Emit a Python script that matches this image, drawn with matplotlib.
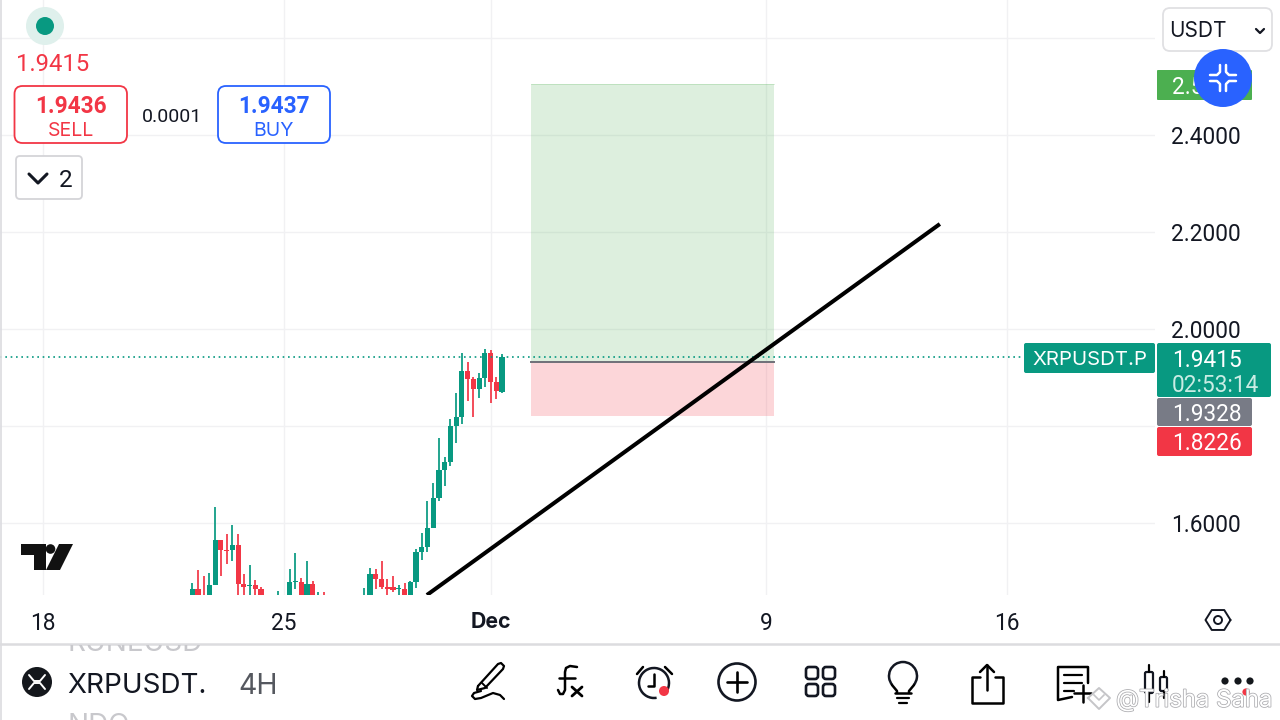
import numpy as np
import matplotlib
matplotlib.use("Agg")
import matplotlib.pyplot as plt
from matplotlib.patches import FancyBboxPatch, Circle, Rectangle, Polygon, Arc
from matplotlib import patheffects as pe

plt.rcParams['font.family'] = ['Inter', 'DejaVu Sans']

# ---------- data ----------
bar_index = [26,27,28,29,30,31,32,33,34,35,36,37,38,41,43,44,45,46,47,48,49,
             56,57,58,59,60,61,62,63,64,65,66,67,68,69,70,71,72,73,74,75,76,77,78,79,80]
opens  = [1.45,1.4646,1.451,1.45,1.4714,1.5649,1.5443,1.5436,1.5539,1.4742,1.4694,1.4714,1.4646,1.44,1.45,1.4776,1.4776,1.45,1.4742,1.44,1.451,
          1.44,1.45,1.4948,1.4838,1.4687,1.4680,1.4632,1.4639,1.45,1.4790,1.5409,1.5512,1.5890,1.6522,1.7093,1.7251,1.8000,1.8178,1.9127,1.8976,1.8770,1.8983,1.9512,1.8907,1.8708]
highs  = [1.4756,1.5024,1.4907,1.4969,1.6336,1.5649,1.5766,1.5951,1.5766,1.4948,1.5127,1.4831,1.4687,1.4591,1.5058,1.5374,1.4859,1.5223,1.4797,1.4569,1.4569,
          1.4659,1.5065,1.5051,1.5209,1.4838,1.4907,1.4721,1.4769,1.4811,1.5457,1.5787,1.6447,1.6831,1.7759,1.7354,1.8151,1.8673,1.9512,1.9319,1.9003,1.9099,1.9581,1.9567,1.9017,1.9484]
lows   = [1.45,1.45,1.45,1.45,1.4714,1.4914,1.5154,1.5223,1.45,1.45,1.45,1.45,1.45,1.44,1.45,1.4646,1.45,1.45,1.45,1.44,1.44,
          1.44,1.45,1.4646,1.4646,1.45,1.4584,1.45,1.45,1.45,1.4653,1.5237,1.5402,1.5890,1.6447,1.6763,1.7175,1.7642,1.8041,1.8508,1.8192,1.8570,1.8811,1.8467,1.8563,1.8687]
closes = [1.4646,1.45,1.449,1.4714,1.5649,1.5443,1.5422,1.5539,1.4742,1.4673,1.4721,1.4632,1.45,1.445,1.4783,1.4797,1.45,1.4742,1.45,1.445,1.449,
          1.445,1.4948,1.4838,1.4673,1.4632,1.4618,1.4653,1.45,1.4790,1.5409,1.5512,1.5890,1.6522,1.7093,1.7251,1.8000,1.8178,1.9127,1.8962,1.8756,1.8983,1.9512,1.8907,1.8728,1.9415]
bars_per_day = 6

y_ticks = [1.6, 1.8, 2.0, 2.2, 2.4, 2.6]
y_labels = ['1.6000', '', '2.0000', '2.2000', '2.4000', '']
x_ticks = [0, 7, 13, 21, 28]
x_labels = ['18', '25', 'Dec', '9', '16']

last_price = 1.9415
entry_price = 1.9328
target_price = 2.505
stop_price = 1.8206
position_days = [14.17, 21.23]
trend_days = [11.15, 26.05]
trend_prices = [1.4515, 2.2165]

GREEN, RED, BLUE, GRAY, INK = '#089981', '#f23645', '#2962ff', '#787b86', '#131722'
NUM = ['Roboto', 'DejaVu Sans']
W, H = 1280, 720
fig = plt.figure(figsize=(12.8, 7.2), dpi=100, facecolor='white')

# ---------- chart axes, calibrated to the price and date scales ----------
AX_R, AX_B = 1155, 595
ax = fig.add_axes([0, 1 - AX_B / H, AX_R / W, AX_B / H])
px_day = 241 / 7
ax.set_xlim(-43 / px_day, (AX_R - 43) / px_day)
ax.set_ylim(2 - (AX_B - 329) / 485, 2 + 329 / 485)
for s in ax.spines.values():
    s.set_visible(False)
ax.yaxis.tick_right()
ax.set_yticks(y_ticks, y_labels)
ax.set_xticks(x_ticks, x_labels)
ax.tick_params(axis='y', length=0, pad=11.5)
ax.tick_params(axis='x', length=0, pad=12)
for lab in ax.get_yticklabels() + ax.get_xticklabels():
    lab.set_fontfamily(NUM); lab.set_fontsize(16.3); lab.set_color(INK)
dec = ax.get_xticklabels()[2]
dec.set_fontfamily(['Inter', 'DejaVu Sans']); dec.set_fontweight('bold'); dec.set_fontsize(15.3)
ax.grid(True, color='#f1f1f3', lw=1.0)
ax.set_axisbelow(True)

# position tool
ax.fill_between(position_days, entry_price, target_price, color='#4caf50', alpha=0.19, lw=0, zorder=1)
ax.fill_between(position_days, stop_price, entry_price, color=RED, alpha=0.20, lw=0, zorder=1)
ax.plot(position_days, [entry_price] * 2, color='#6f7078', lw=1.4, zorder=2)
ax.plot(position_days, [target_price] * 2, color='#4caf50', lw=0.5, alpha=0.3, zorder=2)

# candles
x = np.array(bar_index) / bars_per_day
o, h, l, c = map(np.array, (opens, highs, lows, closes))
cols = [GREEN if cc >= oo else RED for oo, cc in zip(o, c)]
ax.vlines(x, l, h, colors=cols, lw=1.25, zorder=3)
ax.bar(x, np.abs(c - o), bottom=np.minimum(o, c), width=0.15, color=cols, lw=0, zorder=4)

# last price line and trend line
ax.plot([0 / px_day - 43 / px_day, (1025 - 43) / px_day], [last_price] * 2, color=GREEN, lw=1.2,
        ls=(0, (1, 2.2)), zorder=5)
ax.plot(trend_days, trend_prices, color='black', lw=2.9, zorder=6, solid_capstyle='butt')

# ---------- interface layer in pixel coordinates ----------
ui = fig.add_axes([0, 0, 1, 1], facecolor='none')
ui.set_xlim(0, W); ui.set_ylim(H, 0); ui.axis('off')


def box(x0, y0, x1, y1, fc='white', ec='none', lw=1.3, r=3, z=10):
    ui.add_patch(FancyBboxPatch((x0 + r, y0 + r), x1 - x0 - 2 * r, y1 - y0 - 2 * r,
                                boxstyle=f'round,pad={r},rounding_size={r}', fc=fc, ec=ec, lw=lw, zorder=z))


def txt(x0, y0, s, size=15, color=INK, ha='center', weight='normal', z=12, **kw):
    return ui.text(x0, y0, s, fontsize=size, color=color, ha=ha, va='center_baseline',
                   fontweight=weight, zorder=z, **kw)


def line(xs, ys, color='black', lw=2, z=12, **kw):
    ui.plot(xs, ys, color=color, lw=lw, zorder=z, solid_capstyle='round', solid_joinstyle='round', **kw)


# left border and bottom panel
ui.plot([1, 1], [0, H], color='#dedee2', lw=1.3, zorder=1)
ui.plot([0, W], [643.5, 643.5], color='#dcdcdf', lw=1.8, zorder=2)
t = txt(68, 641, 'RUNEUSD', size=20, color='#c8c8cc', ha='left', z=3)
t.set_clip_path(Rectangle((0, 645), 400, 10, transform=ui.transData)); t.set_clip_on(True)
t = txt(68, 722, 'NDQ', size=20, color='#c8c8cc', ha='left', z=3)
t.set_clip_path(Rectangle((0, 712), 400, 8, transform=ui.transData)); t.set_clip_on(True)

# top-left quote block
ui.add_patch(Circle((45, 26), 19, fc='#dff0ec', ec='none', zorder=10))
ui.add_patch(Circle((45, 26), 9, fc=GREEN, ec='none', zorder=11))
txt(16, 62, '1.9415', size=17.2, color=RED, ha='left', family=NUM)
box(14.5, 86, 127, 143, ec=RED, r=8)
txt(71, 104, '1.9436', size=16.3, color=RED, weight='bold', family=NUM)
txt(71, 129, 'SELL', size=14, color=RED)
txt(172, 115, '0.0001', size=14, family=NUM)
box(218, 86, 330, 143, ec=BLUE, r=8)
txt(274, 104, '1.9437', size=16.3, color=BLUE, weight='bold', family=NUM)
txt(273, 129, 'BUY', size=14, color=BLUE)
box(16, 156, 82, 199, ec='#d4d4d8', r=4)
line([29, 38, 47], [174, 183, 174], color=INK, lw=2.2)
txt(66, 178, '2', size=17.5, family=NUM)

# top-right controls
box(1163, 8, 1272, 51, ec='#e0e0e3', r=7)
txt(1169, 29, 'USDT', size=15, ha='left')
line([1256, 1260, 1264], [29, 33, 29], color=INK, lw=1.6)
box(1157, 70, 1252, 100, fc='#4caf50', r=1)
txt(1172, 85, '2.5050', color='white', ha='left', size=16.3, family=NUM)
ui.add_patch(Circle((1223, 78), 29, fc=BLUE, ec='none', zorder=13))
for sx, sy in [(-1, -1), (1, -1), (-1, 1), (1, 1)]:
    line([1223 + sx * 13, 1223 + sx * 6, 1223 + sx * 3, 1223 + sx * 3],
         [78 + sy * 3, 78 + sy * 3, 78 + sy * 6, 78 + sy * 13], color='white', lw=1.8, z=14)

# price tags
box(1024, 343, 1155, 373, fc=GREEN, r=2)
txt(1090, 358, 'XRPUSDT.P', color='white', size=14.7)
box(1157, 343, 1271, 397, fc=GREEN, r=2)
txt(1172, 358, '1.9415', color='white', ha='left', size=16.3, family=NUM)
txt(1172, 383, '02:53:14', color='#c9ece4', ha='left', size=16.3, family=NUM)
box(1157, 398, 1252, 426, fc=GRAY, r=2)
txt(1172, 412, '1.9328', color='white', ha='left', size=16.3, family=NUM)
box(1157, 427, 1252, 456, fc=RED, r=2)
txt(1172, 441, '1.8226', color='white', ha='left', size=16.3, family=NUM)

# TradingView logo
ui.add_patch(Polygon([(21, 544), (46, 544), (46, 570), (34, 570), (34, 555), (21, 555)], fc='#111', ec='none', zorder=8))
ui.add_patch(Circle((50.5, 549), 4.8, fc='#111', ec='none', zorder=8))
ui.add_patch(Polygon([(59, 544), (73, 544), (60, 570), (46, 570)], fc='#111', ec='none', zorder=8))

# settings hexagon
ang = np.deg2rad(np.arange(0, 361, 60))
line(1218 + 12.5 * np.cos(ang), 620 + 11.5 * np.sin(ang), color=INK, lw=1.4)
ui.add_patch(Circle((1218, 620), 4, fc='none', ec=INK, lw=1.4, zorder=12))

# bottom toolbar
ui.add_patch(Circle((37, 682), 15, fc='#14171c', ec='none', zorder=10))
line([29, 34, 40, 45], [675, 681, 681, 675], color='white', lw=1.4)
line([29, 34, 40, 45], [689, 683, 683, 689], color='white', lw=1.4)
txt(67, 683, 'XRPUSDT.', size=20, ha='left')
txt(238, 683, '4H', size=20.5, ha='left', color='#55585f')

# pencil
line([478, 498, 501, 504, 503, 485, 477, 478], [686, 664, 663, 666, 669, 688, 690, 686], lw=1.6)
line([482, 487], [683, 688], lw=1.4)
line([481, 474, 472, 475, 481, 493, 500, 504], [691, 693, 696, 699, 698, 693, 695, 699], lw=1.6)
# fx
line([577, 570, 566, 565, 565, 563, 560, 558], [667, 666, 668, 672, 690, 694, 694, 690], lw=1.8)
line([559, 575], [678, 678], lw=1.8)
line([572, 582], [687, 696], lw=2); line([582, 572], [687, 696], lw=2)
# alarm
ui.add_patch(Arc((654, 683), 30, 30, theta1=80, theta2=395, ec=INK, lw=1.8, zorder=12))
line([654, 654, 648], [674, 686, 686], lw=1.8)
line([637, 643], [674, 667], lw=1.8); line([665, 672], [667, 674], lw=1.8)
ui.add_patch(Circle((664, 691), 5, fc=RED, ec='none', zorder=13))
# plus
ui.add_patch(Circle((737, 682), 18.5, fc='none', ec=INK, lw=1.9, zorder=12))
line([727, 747], [682, 682], lw=1.9); line([737, 737], [672, 692], lw=1.9)
# four squares
for xx in (806, 823):
    for yy in (667, 684):
        box(xx, yy, xx + 12, yy + 12, fc='none', ec=INK, lw=1.9, r=3, z=12)
# bulb
ui.add_patch(Arc((903, 676), 28, 28, theta1=140, theta2=40, ec=INK, lw=1.8, zorder=12))
line([892, 897, 897], [685, 691, 693], lw=1.8); line([914, 909, 909], [685, 691, 693], lw=1.8)
line([895, 911], [693, 693], lw=1.8); line([897, 909], [698, 698], lw=1.6); line([899, 907], [703, 703], lw=1.6)
# share
line([980, 972, 972, 1003, 1003, 995], [677, 677, 703, 703, 677, 677], lw=1.8)
line([987, 987], [665, 690], lw=1.8); line([980, 987, 994], [672, 665, 672], lw=1.8)
# note
line([1072, 1058, 1058, 1088, 1088], [697, 700, 667, 667, 683], lw=1.8)
line([1064, 1082], [675, 675], lw=1.6); line([1064, 1082], [683, 683], lw=1.6); line([1064, 1074], [691, 691], lw=1.6)
line([1074, 1091], [693, 693], lw=1.8); line([1083, 1083], [685, 702], lw=1.8)
# candle icon
box(1145, 672, 1153, 693, fc='none', ec=INK, lw=1.6, r=1.5, z=12)
line([1149, 1149], [665, 672], lw=1.6); line([1149, 1149], [693, 702], lw=1.6)
box(1160, 677, 1167, 691, fc='none', ec=INK, lw=1.6, r=1.5, z=12)
line([1163.5, 1163.5], [671, 677], lw=1.6); line([1163.5, 1163.5], [691, 698], lw=1.6)
# more dots
for xx in (1225, 1238, 1250):
    ui.add_patch(Circle((xx, 681), 3.6, fc='#14171c', ec='none', zorder=12))
ui.add_patch(Circle((1246, 692), 3.6, fc=RED, ec='none', zorder=12))

# watermark
halo = [pe.withStroke(linewidth=1.1, foreground='#a9a9ad')]
t = txt(1116, 698, '@Trisha Saha', size=17.2, color='white', ha='left', z=15)
t.set_path_effects(halo)
ui.plot([1088, 1099, 1110, 1099, 1088], [698, 688, 698, 709, 698], color='#c5c5c8', lw=1.4, zorder=15)
ui.plot([1094, 1099, 1104], [695, 700, 695], color='#c5c5c8', lw=1.2, zorder=15)

fig.savefig('out.png', dpi=100)
